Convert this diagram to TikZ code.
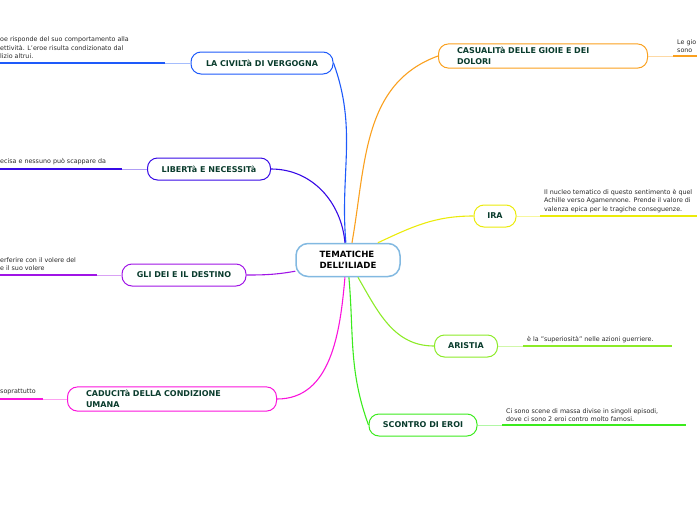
\documentclass[tikz,border=0pt]{standalone}
\usepackage{fontspec}
\setmainfont{DejaVu Sans}
\usetikzlibrary{positioning,calc}
\definecolor{skyline}{RGB}{130,185,225}
\definecolor{cblue}{RGB}{30,90,250}
\definecolor{cindigo}{RGB}{55,10,230}
\definecolor{cpurple}{RGB}{160,20,230}
\definecolor{cmagenta}{RGB}{250,20,220}
\definecolor{corange}{RGB}{250,160,30}
\definecolor{cyellow}{RGB}{235,235,10}
\definecolor{clime}{RGB}{140,235,40}
\definecolor{cgreen}{RGB}{60,235,30}
\definecolor{pine}{RGB}{10,60,45}
\definecolor{ink}{RGB}{40,40,40}
\newcommand{\comma}{,}
\tikzset{
  hub/.style={draw=skyline,line width=1.5pt,rounded corners=12pt,fill=white,
    align=left,minimum width=104pt,minimum height=33pt,
    font=\fontsize{8.6}{11}\selectfont\bfseries},
  topic/.style={draw=#1,line width=1pt,rounded corners=10pt,fill=white,text=pine,
    minimum height=22pt,font=\fontsize{8}{11}\selectfont\bfseries},
  oneline/.style={align=center},
  twoline/.style={align=left,text width=172pt},
  note/.style={text=ink,align=left,inner xsep=0pt,inner ysep=1pt,
    font=\fontsize{6.35}{8.6}\selectfont}
}

\begin{document}
\begin{tikzpicture}[x=1pt,y=-1pt]
  \useasboundingbox (0,0) rectangle (697,520);
  \node[hub] (hub) at (348,260) {TEMATICHE\\DELL'ILIADE};

  % branches
  \foreach \n/\p/\w/\o/\c/\t in {
    civ/{262,63}/142/oneline/cblue/LA CIVILTà DI VERGOGNA,
    lib/{209,169}/123/oneline/cindigo/LIBERTà E NECESSITà,
    dei/{184,275}/124/oneline/cpurple/GLI DEI E IL DESTINO,
    cad/{172,399}/209/twoline/cmagenta/CADUCITà DELLA CONDIZIONE\\UMANA,
    cas/{543,56}/209/twoline/corange/CASUALITà DELLE GIOIE E DEI\\DOLORI,
    ira/{495,216}/42/oneline/cyellow/IRA,
    ari/{466,346}/63/oneline/clime/ARISTIA,
    sco/{423,425}/108/oneline/cgreen/SCONTRO DI EROI}
  {
    \node[topic=\c,\o,minimum width=\w pt] (\n) at (\p) {\t};
  }

  % connectors from the centre
  \foreach \n/\a/\o/\i/\s/\c in {
    civ/97/95/-70/east/cblue,
    lib/100/95/0/east/cindigo,
    dei/192/190/0/east/cpurple,
    cad/260/-95/0/east/cmagenta,
    cas/77/80/200/west/corange,
    ira/30/25/180/west/cyellow,
    ari/-60/-60/180/west/clime,
    sco/-87/-85/110/west/cgreen}
  {
    \draw[\c,line width=1.1pt] (hub.\a) to[out=\o,in=\i] (\n.\s);
  }

  % underlines of the notes
  \foreach \n/\s/\b/\e/\c in {
    civ/west/{165,63}/{0,63}/cblue,
    lib/west/{122,169}/{0,169}/cindigo,
    dei/west/{97,275}/{0,275}/cpurple,
    cad/west/{43,399}/{0,399}/cmagenta,
    cas/east/{673,56}/{697,56}/corange,
    ira/east/{540,216}/{697,216}/cyellow,
    ari/east/{523,346}/{672,346}/clime,
    sco/east/{502,425}/{686,425}/cgreen}
  {
    \coordinate (\n-bar) at (\b);
    \coordinate (\n-end) at (\e);
    \draw[\c!40,line width=0.8pt] (\n.\s) -- (\n-bar);
    \draw[\c,line width=1.6pt] (\n-bar) -- (\n-end);
  }

  % notes
  \foreach \n/\t in {
    civ/{oe risponde del suo comportamento alla\\ettività. L'eroe risulta condizionato dal\\lizio altrui.},
    lib/{ecisa e nessuno può scappare da},
    dei/{erferire con il volere del\\e il suo volere},
    cad/{soprattutto}}
  {
    \node[note,anchor=south west] (\n-note) at ([yshift=3pt]\n-end) {\t};
  }
  \foreach \n/\t in {
    cas/{Le gio\\sono},
    ira/{Il nucleo tematico di questo sentimento è quel\\Achille verso Agamennone. Prende il valore di\\valenza epica per le tragiche conseguenze.},
    ari/{è la "superiosità" nelle azioni guerriere.},
    sco/{Ci sono scene di massa divise in singoli episodi\comma\\dove ci sono 2 eroi contro molto famosi.}}
  {
    \node[note,anchor=south west] (\n-note) at ([xshift=4pt,yshift=2pt]\n-bar) {\t};
  }
\end{tikzpicture}
\end{document}
